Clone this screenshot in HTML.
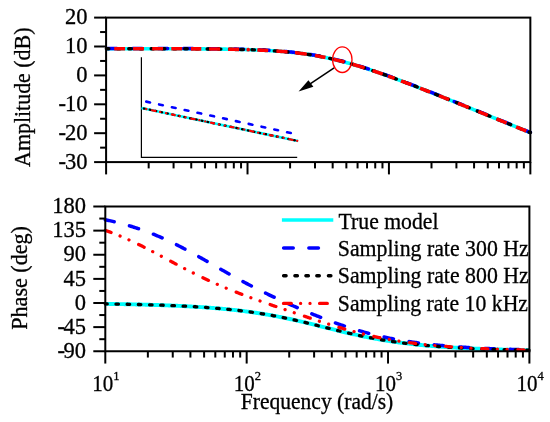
<!DOCTYPE html><html><head><meta charset="utf-8"><style>html,body{margin:0;padding:0;background:#fff;}svg{display:block;}text{font-family:"Liberation Serif","Times New Roman",serif;fill:#000;stroke:#000;stroke-width:0.3px;}</style></head><body>
<svg width="550" height="422" viewBox="0 0 550 422">
<defs><filter id="soft" x="0" y="0" width="1" height="1" filterUnits="objectBoundingBox"><feGaussianBlur stdDeviation="0.3"/></filter></defs>
<g filter="url(#soft)">
<rect width="550" height="422" fill="#fff"/>
<g fill="none">
<path d="M106.10,48.68 L107.16,48.68 L108.22,48.68 L109.28,48.68 L110.34,48.68 L111.40,48.68 L112.46,48.68 L113.52,48.68 L114.59,48.68 L115.65,48.68 L116.71,48.68 L117.77,48.68 L118.83,48.68 L119.89,48.68 L120.95,48.68 L122.01,48.68 L123.07,48.69 L124.13,48.69 L125.19,48.69 L126.25,48.69 L127.31,48.69 L128.37,48.69 L129.43,48.69 L130.49,48.69 L131.55,48.69 L132.62,48.69 L133.68,48.69 L134.74,48.69 L135.80,48.69 L136.86,48.70 L137.92,48.70 L138.98,48.70 L140.04,48.70 L141.10,48.70 L142.16,48.70 L143.22,48.70 L144.28,48.70 L145.34,48.70 L146.40,48.71 L147.46,48.71 L148.53,48.71 L149.59,48.71 L150.65,48.71 L151.71,48.71 L152.77,48.71 L153.83,48.72 L154.89,48.72 L155.95,48.72 L157.01,48.72 L158.07,48.72 L159.13,48.72 L160.19,48.73 L161.25,48.73 L162.31,48.73 L163.37,48.73 L164.43,48.74 L165.49,48.74 L166.56,48.74 L167.62,48.74 L168.68,48.74 L169.74,48.75 L170.80,48.75 L171.86,48.75 L172.92,48.76 L173.98,48.76 L175.04,48.76 L176.10,48.77 L177.16,48.77 L178.22,48.77 L179.28,48.78 L180.34,48.78 L181.40,48.78 L182.47,48.79 L183.53,48.79 L184.59,48.80 L185.65,48.80 L186.71,48.81 L187.77,48.81 L188.83,48.82 L189.89,48.82 L190.95,48.83 L192.01,48.83 L193.07,48.84 L194.13,48.84 L195.19,48.85 L196.25,48.86 L197.31,48.86 L198.37,48.87 L199.44,48.88 L200.50,48.88 L201.56,48.89 L202.62,48.90 L203.68,48.91 L204.74,48.92 L205.80,48.93 L206.86,48.93 L207.92,48.94 L208.98,48.95 L210.04,48.96 L211.10,48.97 L212.16,48.98 L213.22,48.99 L214.28,49.01 L215.34,49.02 L216.41,49.03 L217.47,49.04 L218.53,49.06 L219.59,49.07 L220.65,49.08 L221.71,49.10 L222.77,49.11 L223.83,49.13 L224.89,49.14 L225.95,49.16 L227.01,49.18 L228.07,49.19 L229.13,49.21 L230.19,49.23 L231.25,49.25 L232.31,49.27 L233.38,49.29 L234.44,49.31 L235.50,49.33 L236.56,49.36 L237.62,49.38 L238.68,49.41 L239.74,49.43 L240.80,49.46 L241.86,49.48 L242.92,49.51 L243.98,49.54 L245.04,49.57 L246.10,49.60 L247.16,49.63 L248.22,49.66 L249.28,49.70 L250.34,49.73 L251.41,49.77 L252.47,49.80 L253.53,49.84 L254.59,49.88 L255.65,49.92 L256.71,49.96 L257.77,50.01 L258.83,50.05 L259.89,50.10 L260.95,50.15 L262.01,50.19 L263.07,50.25 L264.13,50.30 L265.19,50.35 L266.25,50.41 L267.31,50.46 L268.38,50.52 L269.44,50.58 L270.50,50.64 L271.56,50.71 L272.62,50.77 L273.68,50.84 L274.74,50.91 L275.80,50.98 L276.86,51.06 L277.92,51.13 L278.98,51.21 L280.04,51.29 L281.10,51.38 L282.16,51.46 L283.22,51.55 L284.28,51.64 L285.35,51.73 L286.41,51.83 L287.47,51.93 L288.53,52.03 L289.59,52.13 L290.65,52.24 L291.71,52.34 L292.77,52.46 L293.83,52.57 L294.89,52.69 L295.95,52.81 L297.01,52.93 L298.07,53.06 L299.13,53.19 L300.19,53.32 L301.25,53.46 L302.32,53.59 L303.38,53.74 L304.44,53.88 L305.50,54.03 L306.56,54.18 L307.62,54.34 L308.68,54.50 L309.74,54.66 L310.80,54.83 L311.86,55.00 L312.92,55.17 L313.98,55.35 L315.04,55.53 L316.10,55.71 L317.16,55.90 L318.23,56.09 L319.29,56.29 L320.35,56.49 L321.41,56.69 L322.47,56.90 L323.53,57.11 L324.59,57.32 L325.65,57.54 L326.71,57.76 L327.77,57.99 L328.83,58.22 L329.89,58.45 L330.95,58.69 L332.01,58.93 L333.07,59.17 L334.13,59.42 L335.20,59.67 L336.26,59.92 L337.32,60.18 L338.38,60.44 L339.44,60.71 L340.50,60.98 L341.56,61.25 L342.62,61.53 L343.68,61.81 L344.74,62.09 L345.80,62.38 L346.86,62.67 L347.92,62.96 L348.98,63.26 L350.04,63.56 L351.10,63.86 L352.17,64.16 L353.23,64.47 L354.29,64.79 L355.35,65.10 L356.41,65.42 L357.47,65.74 L358.53,66.06 L359.59,66.39 L360.65,66.72 L361.71,67.05 L362.77,67.38 L363.83,67.72 L364.89,68.06 L365.95,68.40 L367.01,68.75 L368.07,69.10 L369.13,69.45 L370.20,69.80 L371.26,70.15 L372.32,70.51 L373.38,70.87 L374.44,71.23 L375.50,71.59 L376.56,71.95 L377.62,72.32 L378.68,72.69 L379.74,73.06 L380.80,73.43 L381.86,73.81 L382.92,74.18 L383.98,74.56 L385.04,74.94 L386.11,75.32 L387.17,75.70 L388.23,76.09 L389.29,76.47 L390.35,76.86 L391.41,77.25 L392.47,77.64 L393.53,78.03 L394.59,78.42 L395.65,78.81 L396.71,79.21 L397.77,79.60 L398.83,80.00 L399.89,80.40 L400.95,80.80 L402.01,81.20 L403.08,81.60 L404.14,82.00 L405.20,82.41 L406.26,82.81 L407.32,83.22 L408.38,83.62 L409.44,84.03 L410.50,84.44 L411.56,84.85 L412.62,85.26 L413.68,85.67 L414.74,86.08 L415.80,86.49 L416.86,86.90 L417.92,87.32 L418.98,87.73 L420.04,88.15 L421.11,88.56 L422.17,88.98 L423.23,89.39 L424.29,89.81 L425.35,90.23 L426.41,90.65 L427.47,91.06 L428.53,91.48 L429.59,91.90 L430.65,92.32 L431.71,92.74 L432.77,93.16 L433.83,93.58 L434.89,94.01 L435.95,94.43 L437.01,94.85 L438.08,95.27 L439.14,95.70 L440.20,96.12 L441.26,96.54 L442.32,96.97 L443.38,97.39 L444.44,97.82 L445.50,98.24 L446.56,98.67 L447.62,99.09 L448.68,99.52 L449.74,99.94 L450.80,100.37 L451.86,100.80 L452.92,101.22 L453.99,101.65 L455.05,102.08 L456.11,102.51 L457.17,102.93 L458.23,103.36 L459.29,103.79 L460.35,104.22 L461.41,104.65 L462.47,105.07 L463.53,105.50 L464.59,105.93 L465.65,106.36 L466.71,106.79 L467.77,107.22 L468.83,107.65 L469.89,108.08 L470.96,108.51 L472.02,108.94 L473.08,109.37 L474.14,109.80 L475.20,110.23 L476.26,110.66 L477.32,111.09 L478.38,111.52 L479.44,111.95 L480.50,112.38 L481.56,112.81 L482.62,113.24 L483.68,113.67 L484.74,114.11 L485.80,114.54 L486.86,114.97 L487.93,115.40 L488.99,115.83 L490.05,116.26 L491.11,116.69 L492.17,117.13 L493.23,117.56 L494.29,117.99 L495.35,118.42 L496.41,118.85 L497.47,119.28 L498.53,119.72 L499.59,120.15 L500.65,120.58 L501.71,121.01 L502.77,121.44 L503.83,121.88 L504.89,122.31 L505.96,122.74 L507.02,123.17 L508.08,123.61 L509.14,124.04 L510.20,124.47 L511.26,124.90 L512.32,125.34 L513.38,125.77 L514.44,126.20 L515.50,126.63 L516.56,127.07 L517.62,127.50 L518.68,127.93 L519.74,128.36 L520.80,128.80 L521.87,129.23 L522.93,129.66 L523.99,130.10 L525.05,130.53 L526.11,130.96 L527.17,131.39 L528.23,131.83 L529.29,132.26 L530.35,132.69" stroke="#00ffff" stroke-width="3.6"/>
<path d="M106.10,48.43 L107.16,48.43 L108.22,48.43 L109.28,48.43 L110.34,48.43 L111.40,48.43 L112.46,48.43 L113.52,48.43 L114.59,48.43 L115.65,48.43 L116.71,48.43 L117.77,48.43 L118.83,48.43 L119.89,48.43 L120.95,48.43 L122.01,48.43 L123.07,48.44 L124.13,48.44 L125.19,48.44 L126.25,48.44 L127.31,48.44 L128.37,48.44 L129.43,48.44 L130.49,48.44 L131.55,48.44 L132.62,48.44 L133.68,48.44 L134.74,48.44 L135.80,48.44 L136.86,48.45 L137.92,48.45 L138.98,48.45 L140.04,48.45 L141.10,48.45 L142.16,48.45 L143.22,48.45 L144.28,48.45 L145.34,48.45 L146.40,48.46 L147.46,48.46 L148.53,48.46 L149.59,48.46 L150.65,48.46 L151.71,48.46 L152.77,48.46 L153.83,48.47 L154.89,48.47 L155.95,48.47 L157.01,48.47 L158.07,48.47 L159.13,48.47 L160.19,48.48 L161.25,48.48 L162.31,48.48 L163.37,48.48 L164.43,48.49 L165.49,48.49 L166.56,48.49 L167.62,48.49 L168.68,48.49 L169.74,48.50 L170.80,48.50 L171.86,48.50 L172.92,48.51 L173.98,48.51 L175.04,48.51 L176.10,48.52 L177.16,48.52 L178.22,48.52 L179.28,48.53 L180.34,48.53 L181.40,48.53 L182.47,48.54 L183.53,48.54 L184.59,48.55 L185.65,48.55 L186.71,48.56 L187.77,48.56 L188.83,48.57 L189.89,48.57 L190.95,48.58 L192.01,48.58 L193.07,48.59 L194.13,48.59 L195.19,48.60 L196.25,48.61 L197.31,48.61 L198.37,48.62 L199.44,48.63 L200.50,48.63 L201.56,48.64 L202.62,48.65 L203.68,48.66 L204.74,48.67 L205.80,48.68 L206.86,48.68 L207.92,48.69 L208.98,48.70 L210.04,48.71 L211.10,48.72 L212.16,48.73 L213.22,48.74 L214.28,48.76 L215.34,48.77 L216.41,48.78 L217.47,48.79 L218.53,48.81 L219.59,48.82 L220.65,48.83 L221.71,48.85 L222.77,48.86 L223.83,48.88 L224.89,48.89 L225.95,48.91 L227.01,48.93 L228.07,48.94 L229.13,48.96 L230.19,48.98 L231.25,49.00 L232.31,49.02 L233.38,49.04 L234.44,49.06 L235.50,49.08 L236.56,49.11 L237.62,49.13 L238.68,49.16 L239.74,49.18 L240.80,49.21 L241.86,49.23 L242.92,49.26 L243.98,49.29 L245.04,49.32 L246.10,49.35 L247.16,49.38 L248.22,49.41 L249.28,49.45 L250.34,49.48 L251.41,49.52 L252.47,49.55 L253.53,49.59 L254.59,49.63 L255.65,49.67 L256.71,49.71 L257.77,49.76 L258.83,49.80 L259.89,49.85 L260.95,49.90 L262.01,49.94 L263.07,50.00 L264.13,50.05 L265.19,50.10 L266.25,50.16 L267.31,50.21 L268.38,50.27 L269.44,50.33 L270.50,50.39 L271.56,50.46 L272.62,50.52 L273.68,50.59 L274.74,50.66 L275.80,50.73 L276.86,50.81 L277.92,50.88 L278.98,50.96 L280.04,51.04 L281.10,51.13 L282.16,51.21 L283.22,51.30 L284.28,51.39 L285.35,51.48 L286.41,51.58 L287.47,51.68 L288.53,51.78 L289.59,51.88 L290.65,51.99 L291.71,52.09 L292.77,52.21 L293.83,52.32 L294.89,52.44 L295.95,52.56 L297.01,52.68 L298.07,52.81 L299.13,52.94 L300.19,53.07 L301.25,53.21 L302.32,53.34 L303.38,53.49 L304.44,53.63 L305.50,53.78 L306.56,53.93 L307.62,54.09 L308.68,54.25 L309.74,54.41 L310.80,54.58 L311.86,54.75 L312.92,54.92 L313.98,55.10 L315.04,55.28 L316.10,55.46 L317.16,55.65 L318.23,55.84 L319.29,56.04 L320.35,56.24 L321.41,56.44 L322.47,56.65 L323.53,56.86 L324.59,57.07 L325.65,57.29 L326.71,57.51 L327.77,57.74 L328.83,57.97 L329.89,58.20 L330.95,58.44 L332.01,58.68 L333.07,58.92 L334.13,59.17 L335.20,59.42 L336.26,59.67 L337.32,59.93 L338.38,60.19 L339.44,60.46 L340.50,60.73 L341.56,61.00 L342.62,61.28 L343.68,61.56 L344.74,61.84 L345.80,62.13 L346.86,62.42 L347.92,62.71 L348.98,63.01 L350.04,63.31 L351.10,63.61 L352.17,63.91 L353.23,64.22 L354.29,64.54 L355.35,64.85 L356.41,65.17 L357.47,65.49 L358.53,65.81 L359.59,66.14 L360.65,66.47 L361.71,66.80 L362.77,67.13 L363.83,67.47 L364.89,67.81 L365.95,68.15 L367.01,68.50 L368.07,68.85 L369.13,69.20 L370.20,69.55 L371.26,69.90 L372.32,70.26 L373.38,70.62 L374.44,70.98 L375.50,71.34 L376.56,71.70 L377.62,72.07 L378.68,72.44 L379.74,72.81 L380.80,73.18 L381.86,73.56 L382.92,73.93 L383.98,74.31 L385.04,74.69 L386.11,75.07 L387.17,75.45 L388.23,75.84 L389.29,76.22 L390.35,76.61 L391.41,77.00 L392.47,77.39 L393.53,77.78 L394.59,78.17 L395.65,78.56 L396.71,78.96 L397.77,79.35 L398.83,79.75 L399.89,80.15 L400.95,80.55 L402.01,80.95 L403.08,81.35 L404.14,81.75 L405.20,82.16 L406.26,82.56 L407.32,82.97 L408.38,83.37 L409.44,83.78 L410.50,84.19 L411.56,84.60 L412.62,85.01 L413.68,85.42 L414.74,85.83 L415.80,86.24 L416.86,86.65 L417.92,87.07 L418.98,87.48 L420.04,87.90 L421.11,88.31 L422.17,88.73 L423.23,89.14 L424.29,89.56 L425.35,89.98 L426.41,90.40 L427.47,90.81 L428.53,91.23 L429.59,91.65 L430.65,92.07 L431.71,92.49 L432.77,92.91 L433.83,93.33 L434.89,93.76 L435.95,94.18 L437.01,94.60 L438.08,95.02 L439.14,95.45 L440.20,95.87 L441.26,96.29 L442.32,96.72 L443.38,97.14 L444.44,97.57 L445.50,97.99 L446.56,98.42 L447.62,98.84 L448.68,99.27 L449.74,99.69 L450.80,100.12 L451.86,100.55 L452.92,100.97 L453.99,101.40 L455.05,101.83 L456.11,102.26 L457.17,102.68 L458.23,103.11 L459.29,103.54 L460.35,103.97 L461.41,104.40 L462.47,104.82 L463.53,105.25 L464.59,105.68 L465.65,106.11 L466.71,106.54 L467.77,106.97 L468.83,107.40 L469.89,107.83 L470.96,108.26 L472.02,108.69 L473.08,109.12 L474.14,109.55 L475.20,109.98 L476.26,110.41 L477.32,110.84 L478.38,111.27 L479.44,111.70 L480.50,112.13 L481.56,112.56 L482.62,112.99 L483.68,113.42 L484.74,113.86 L485.80,114.29 L486.86,114.72 L487.93,115.15 L488.99,115.58 L490.05,116.01 L491.11,116.44 L492.17,116.88 L493.23,117.31 L494.29,117.74 L495.35,118.17 L496.41,118.60 L497.47,119.03 L498.53,119.47 L499.59,119.90 L500.65,120.33 L501.71,120.76 L502.77,121.19 L503.83,121.63 L504.89,122.06 L505.96,122.49 L507.02,122.92 L508.08,123.36 L509.14,123.79 L510.20,124.22 L511.26,124.65 L512.32,125.09 L513.38,125.52 L514.44,125.95 L515.50,126.38 L516.56,126.82 L517.62,127.25 L518.68,127.68 L519.74,128.11 L520.80,128.55 L521.87,128.98 L522.93,129.41 L523.99,129.85 L525.05,130.28 L526.11,130.71 L527.17,131.14 L528.23,131.58 L529.29,132.01 L530.35,132.44" stroke="#0000ff" stroke-width="3.5" stroke-linecap="round" stroke-dasharray="9.5 15.85" stroke-dashoffset="24.00"/>
<path d="M106.10,48.68 L107.16,48.68 L108.22,48.68 L109.28,48.68 L110.34,48.68 L111.40,48.68 L112.46,48.68 L113.52,48.68 L114.59,48.68 L115.65,48.68 L116.71,48.68 L117.77,48.68 L118.83,48.68 L119.89,48.68 L120.95,48.68 L122.01,48.68 L123.07,48.69 L124.13,48.69 L125.19,48.69 L126.25,48.69 L127.31,48.69 L128.37,48.69 L129.43,48.69 L130.49,48.69 L131.55,48.69 L132.62,48.69 L133.68,48.69 L134.74,48.69 L135.80,48.69 L136.86,48.70 L137.92,48.70 L138.98,48.70 L140.04,48.70 L141.10,48.70 L142.16,48.70 L143.22,48.70 L144.28,48.70 L145.34,48.70 L146.40,48.71 L147.46,48.71 L148.53,48.71 L149.59,48.71 L150.65,48.71 L151.71,48.71 L152.77,48.71 L153.83,48.72 L154.89,48.72 L155.95,48.72 L157.01,48.72 L158.07,48.72 L159.13,48.72 L160.19,48.73 L161.25,48.73 L162.31,48.73 L163.37,48.73 L164.43,48.74 L165.49,48.74 L166.56,48.74 L167.62,48.74 L168.68,48.74 L169.74,48.75 L170.80,48.75 L171.86,48.75 L172.92,48.76 L173.98,48.76 L175.04,48.76 L176.10,48.77 L177.16,48.77 L178.22,48.77 L179.28,48.78 L180.34,48.78 L181.40,48.78 L182.47,48.79 L183.53,48.79 L184.59,48.80 L185.65,48.80 L186.71,48.81 L187.77,48.81 L188.83,48.82 L189.89,48.82 L190.95,48.83 L192.01,48.83 L193.07,48.84 L194.13,48.84 L195.19,48.85 L196.25,48.86 L197.31,48.86 L198.37,48.87 L199.44,48.88 L200.50,48.88 L201.56,48.89 L202.62,48.90 L203.68,48.91 L204.74,48.92 L205.80,48.93 L206.86,48.93 L207.92,48.94 L208.98,48.95 L210.04,48.96 L211.10,48.97 L212.16,48.98 L213.22,48.99 L214.28,49.01 L215.34,49.02 L216.41,49.03 L217.47,49.04 L218.53,49.06 L219.59,49.07 L220.65,49.08 L221.71,49.10 L222.77,49.11 L223.83,49.13 L224.89,49.14 L225.95,49.16 L227.01,49.18 L228.07,49.19 L229.13,49.21 L230.19,49.23 L231.25,49.25 L232.31,49.27 L233.38,49.29 L234.44,49.31 L235.50,49.33 L236.56,49.36 L237.62,49.38 L238.68,49.41 L239.74,49.43 L240.80,49.46 L241.86,49.48 L242.92,49.51 L243.98,49.54 L245.04,49.57 L246.10,49.60 L247.16,49.63 L248.22,49.66 L249.28,49.70 L250.34,49.73 L251.41,49.77 L252.47,49.80 L253.53,49.84 L254.59,49.88 L255.65,49.92 L256.71,49.96 L257.77,50.01 L258.83,50.05 L259.89,50.10 L260.95,50.15 L262.01,50.19 L263.07,50.25 L264.13,50.30 L265.19,50.35 L266.25,50.41 L267.31,50.46 L268.38,50.52 L269.44,50.58 L270.50,50.64 L271.56,50.71 L272.62,50.77 L273.68,50.84 L274.74,50.91 L275.80,50.98 L276.86,51.06 L277.92,51.13 L278.98,51.21 L280.04,51.29 L281.10,51.38 L282.16,51.46 L283.22,51.55 L284.28,51.64 L285.35,51.73 L286.41,51.83 L287.47,51.93 L288.53,52.03 L289.59,52.13 L290.65,52.24 L291.71,52.34 L292.77,52.46 L293.83,52.57 L294.89,52.69 L295.95,52.81 L297.01,52.93 L298.07,53.06 L299.13,53.19 L300.19,53.32 L301.25,53.46 L302.32,53.59 L303.38,53.74 L304.44,53.88 L305.50,54.03 L306.56,54.18 L307.62,54.34 L308.68,54.50 L309.74,54.66 L310.80,54.83 L311.86,55.00 L312.92,55.17 L313.98,55.35 L315.04,55.53 L316.10,55.71 L317.16,55.90 L318.23,56.09 L319.29,56.29 L320.35,56.49 L321.41,56.69 L322.47,56.90 L323.53,57.11 L324.59,57.32 L325.65,57.54 L326.71,57.76 L327.77,57.99 L328.83,58.22 L329.89,58.45 L330.95,58.69 L332.01,58.93 L333.07,59.17 L334.13,59.42 L335.20,59.67 L336.26,59.92 L337.32,60.18 L338.38,60.44 L339.44,60.71 L340.50,60.98 L341.56,61.25 L342.62,61.53 L343.68,61.81 L344.74,62.09 L345.80,62.38 L346.86,62.67 L347.92,62.96 L348.98,63.26 L350.04,63.56 L351.10,63.86 L352.17,64.16 L353.23,64.47 L354.29,64.79 L355.35,65.10 L356.41,65.42 L357.47,65.74 L358.53,66.06 L359.59,66.39 L360.65,66.72 L361.71,67.05 L362.77,67.38 L363.83,67.72 L364.89,68.06 L365.95,68.40 L367.01,68.75 L368.07,69.10 L369.13,69.45 L370.20,69.80 L371.26,70.15 L372.32,70.51 L373.38,70.87 L374.44,71.23 L375.50,71.59 L376.56,71.95 L377.62,72.32 L378.68,72.69 L379.74,73.06 L380.80,73.43 L381.86,73.81 L382.92,74.18 L383.98,74.56 L385.04,74.94 L386.11,75.32 L387.17,75.70 L388.23,76.09 L389.29,76.47 L390.35,76.86 L391.41,77.25 L392.47,77.64 L393.53,78.03 L394.59,78.42 L395.65,78.81 L396.71,79.21 L397.77,79.60 L398.83,80.00 L399.89,80.40 L400.95,80.80 L402.01,81.20 L403.08,81.60 L404.14,82.00 L405.20,82.41 L406.26,82.81 L407.32,83.22 L408.38,83.62 L409.44,84.03 L410.50,84.44 L411.56,84.85 L412.62,85.26 L413.68,85.67 L414.74,86.08 L415.80,86.49 L416.86,86.90 L417.92,87.32 L418.98,87.73 L420.04,88.15 L421.11,88.56 L422.17,88.98 L423.23,89.39 L424.29,89.81 L425.35,90.23 L426.41,90.65 L427.47,91.06 L428.53,91.48 L429.59,91.90 L430.65,92.32 L431.71,92.74 L432.77,93.16 L433.83,93.58 L434.89,94.01 L435.95,94.43 L437.01,94.85 L438.08,95.27 L439.14,95.70 L440.20,96.12 L441.26,96.54 L442.32,96.97 L443.38,97.39 L444.44,97.82 L445.50,98.24 L446.56,98.67 L447.62,99.09 L448.68,99.52 L449.74,99.94 L450.80,100.37 L451.86,100.80 L452.92,101.22 L453.99,101.65 L455.05,102.08 L456.11,102.51 L457.17,102.93 L458.23,103.36 L459.29,103.79 L460.35,104.22 L461.41,104.65 L462.47,105.07 L463.53,105.50 L464.59,105.93 L465.65,106.36 L466.71,106.79 L467.77,107.22 L468.83,107.65 L469.89,108.08 L470.96,108.51 L472.02,108.94 L473.08,109.37 L474.14,109.80 L475.20,110.23 L476.26,110.66 L477.32,111.09 L478.38,111.52 L479.44,111.95 L480.50,112.38 L481.56,112.81 L482.62,113.24 L483.68,113.67 L484.74,114.11 L485.80,114.54 L486.86,114.97 L487.93,115.40 L488.99,115.83 L490.05,116.26 L491.11,116.69 L492.17,117.13 L493.23,117.56 L494.29,117.99 L495.35,118.42 L496.41,118.85 L497.47,119.28 L498.53,119.72 L499.59,120.15 L500.65,120.58 L501.71,121.01 L502.77,121.44 L503.83,121.88 L504.89,122.31 L505.96,122.74 L507.02,123.17 L508.08,123.61 L509.14,124.04 L510.20,124.47 L511.26,124.90 L512.32,125.34 L513.38,125.77 L514.44,126.20 L515.50,126.63 L516.56,127.07 L517.62,127.50 L518.68,127.93 L519.74,128.36 L520.80,128.80 L521.87,129.23 L522.93,129.66 L523.99,130.10 L525.05,130.53 L526.11,130.96 L527.17,131.39 L528.23,131.83 L529.29,132.26 L530.35,132.69" stroke="#000" stroke-width="3.4" stroke-linecap="round" stroke-dasharray="2.5 8.7" stroke-dashoffset="10.95"/>
<path d="M114.20,48.68 L114.59,48.68 L115.65,48.68 L116.71,48.68 L117.77,48.68 L118.83,48.68 L119.89,48.68 L120.95,48.68 L122.01,48.68 L123.07,48.69 L124.13,48.69 L125.10,48.69 M133.10,48.69 L133.68,48.69 L134.74,48.69 L135.80,48.69 L136.86,48.70 L137.92,48.70 L138.98,48.70 L140.04,48.70 L141.10,48.70 L142.16,48.70 L143.22,48.70 L144.00,48.70 M152.20,48.71 L152.77,48.71 L153.83,48.72 L154.89,48.72 L155.95,48.72 L157.01,48.72 L158.07,48.72 L159.13,48.72 L160.19,48.73 L161.25,48.73 L162.31,48.73 L163.10,48.73 M171.30,48.75 L171.86,48.75 L172.92,48.76 L173.98,48.76 L175.04,48.76 L176.10,48.77 L177.16,48.77 L178.22,48.77 L179.28,48.78 L180.34,48.78 L181.40,48.78 L182.20,48.79 M190.90,48.83 L190.95,48.83 L192.01,48.83 L193.07,48.84 L194.13,48.84 L195.19,48.85 L196.25,48.86 L197.31,48.86 L198.37,48.87 L199.44,48.88 L200.50,48.88 L201.30,48.89 M209.10,48.95 L210.04,48.96 L211.10,48.97 L212.16,48.98 L213.22,48.99 L214.28,49.01 L215.34,49.02 L216.41,49.03 L217.47,49.04 L218.53,49.06 L219.59,49.07 L220.00,49.07 M228.20,49.20 L229.13,49.21 L230.19,49.23 L231.25,49.25 L232.31,49.27 L233.38,49.29 L234.44,49.31 L235.50,49.33 L236.56,49.36 L237.62,49.38 L238.68,49.41 L239.10,49.42 M257.30,49.99 L257.77,50.01 L258.83,50.05 L259.89,50.10 L260.95,50.15 L262.01,50.19 L263.07,50.25 L264.13,50.30 L265.19,50.35 L266.25,50.41 L267.31,50.46 L268.20,50.51 M276.40,51.03 L276.86,51.06 L277.92,51.13 L278.98,51.21 L280.04,51.29 L281.10,51.38 L282.16,51.46 L283.22,51.55 L284.28,51.64 L285.35,51.73 L286.41,51.83 L287.47,51.93 L287.50,51.93 M295.00,52.70 L295.95,52.81 L297.01,52.93 L298.07,53.06 L299.13,53.19 L300.19,53.32 L301.25,53.46 L302.32,53.59 L303.38,53.74 L304.44,53.88 L305.50,54.03 L306.56,54.18 L306.80,54.22 M315.00,55.52 L315.04,55.53 L316.10,55.71 L317.16,55.90 L318.23,56.09 L319.29,56.29 L320.35,56.49 L321.41,56.69 L322.47,56.90 L323.53,57.11 L324.59,57.32 L325.50,57.51 M333.60,59.29 L334.13,59.42 L335.20,59.67 L336.26,59.92 L337.32,60.18 L338.38,60.44 L339.44,60.71 L340.50,60.98 L341.56,61.25 L342.62,61.53 L343.68,61.81 L344.50,62.03 M352.70,64.32 L353.23,64.47 L354.29,64.79 L355.35,65.10 L356.41,65.42 L357.47,65.74 L358.53,66.06 L359.59,66.39 L360.65,66.72 L361.71,67.05 L362.77,67.38 L363.83,67.72 L364.50,67.94 M372.70,70.64 L373.38,70.87 L374.44,71.23 L375.50,71.59 L376.56,71.95 L377.62,72.32 L378.68,72.69 L379.74,73.06 L380.80,73.43 L381.86,73.81 L382.70,74.10 M388.00,76.00 L388.23,76.09 L389.29,76.47 L390.35,76.86 L391.41,77.25 L392.47,77.64 L393.53,78.03 L394.50,78.39 M401.00,80.82 L402.01,81.20 L403.08,81.60 L404.14,82.00 L405.20,82.41 L406.26,82.81 L407.32,83.22 L408.38,83.62 L409.44,84.03 L410.50,84.44 L411.30,84.75 M420.00,88.13 L420.04,88.15 L421.11,88.56 L422.17,88.98 L423.23,89.39 L424.29,89.81 L425.35,90.23 L426.41,90.65 L427.47,91.06 L428.53,91.48 L429.59,91.90 L430.20,92.14 M438.90,95.60 L439.14,95.70 L440.20,96.12 L441.26,96.54 L442.32,96.97 L443.38,97.39 L444.44,97.82 L445.50,98.24 L446.56,98.67 L447.62,99.09 L448.68,99.52 L449.10,99.69 M457.90,103.23 L458.23,103.36 L459.29,103.79 L460.35,104.22 L461.41,104.65 L462.47,105.07 L463.53,105.50 L464.59,105.93 L465.65,106.36 L466.71,106.79 L467.77,107.22 L468.80,107.64 M478.30,111.49 L478.38,111.52 L479.44,111.95 L480.50,112.38 L481.56,112.81 L482.62,113.24 L483.68,113.67 L484.74,114.11 L485.80,114.54 L486.86,114.97 L487.70,115.31 M496.50,118.89 L497.47,119.28 L498.53,119.72 L499.59,120.15 L500.65,120.58 L501.71,121.01 L502.77,121.44 L503.83,121.88 L504.89,122.31 L505.96,122.74 L506.60,123.00 M516.10,126.88 L516.56,127.07 L517.62,127.50 L518.68,127.93 L519.74,128.36 L520.80,128.80 L521.87,129.23 L522.93,129.66 L523.99,130.10 L525.05,130.53 L526.11,130.96 L526.30,131.04" stroke="#ff0000" stroke-width="3.6"/>
<circle cx="248.2" cy="49.66" r="1.85" fill="#ff0000" stroke="none"/>
</g>
<g fill="none">
<path d="M141.4,57.3 V157.3 H297.2" stroke="#000" stroke-width="1.2"/>
<path d="M141.5,108 L298,141" stroke="#00ffff" stroke-width="2.8"/>
<path d="M141.5,108 L298,141" stroke="#000" stroke-width="2.3" stroke-linecap="round" stroke-dasharray="0.8 5.1" stroke-dashoffset="-2.5"/>
<path d="M141.5,108 L298,141" stroke="#ff0000" stroke-width="2.3" stroke-linecap="round" stroke-dasharray="3 5 0.01 6 0.01 6" stroke-dashoffset="-11"/>
<path d="M141.5,100.6 L298,134.6" stroke="#0000ff" stroke-width="2.6" stroke-dasharray="3.8 9.3" stroke-dashoffset="-4.9" stroke-linecap="round"/>
</g>
<ellipse cx="342.3" cy="59.7" rx="9.7" ry="12.8" fill="none" stroke="#ff0000" stroke-width="1.3"/>
<line x1="334.1" y1="67.9" x2="309" y2="84.6" stroke="#000" stroke-width="1.6"/>
<polygon points="298.6,91.6 308.4,80.2 313.4,86.7" fill="#000"/>
<g fill="none">
<path d="M105.30,303.87 L106.36,303.89 L107.42,303.90 L108.48,303.92 L109.54,303.93 L110.60,303.95 L111.66,303.97 L112.72,303.98 L113.78,304.00 L114.84,304.02 L115.90,304.04 L116.96,304.05 L118.02,304.07 L119.08,304.09 L120.14,304.11 L121.20,304.13 L122.26,304.15 L123.32,304.17 L124.38,304.19 L125.44,304.21 L126.50,304.23 L127.57,304.25 L128.63,304.28 L129.69,304.30 L130.75,304.32 L131.81,304.34 L132.87,304.37 L133.93,304.39 L134.99,304.41 L136.05,304.44 L137.11,304.46 L138.17,304.49 L139.23,304.52 L140.29,304.54 L141.35,304.57 L142.41,304.60 L143.47,304.62 L144.53,304.65 L145.59,304.68 L146.65,304.71 L147.71,304.74 L148.77,304.77 L149.83,304.80 L150.89,304.83 L151.95,304.86 L153.01,304.90 L154.07,304.93 L155.13,304.96 L156.19,305.00 L157.25,305.03 L158.31,305.07 L159.37,305.10 L160.43,305.14 L161.49,305.18 L162.55,305.21 L163.61,305.25 L164.67,305.29 L165.73,305.33 L166.79,305.37 L167.85,305.41 L168.91,305.45 L169.98,305.50 L171.04,305.54 L172.10,305.58 L173.16,305.63 L174.22,305.67 L175.28,305.72 L176.34,305.77 L177.40,305.82 L178.46,305.86 L179.52,305.91 L180.58,305.96 L181.64,306.02 L182.70,306.07 L183.76,306.12 L184.82,306.18 L185.88,306.23 L186.94,306.29 L188.00,306.34 L189.06,306.40 L190.12,306.46 L191.18,306.52 L192.24,306.58 L193.30,306.64 L194.36,306.70 L195.42,306.77 L196.48,306.83 L197.54,306.90 L198.60,306.97 L199.66,307.03 L200.72,307.10 L201.78,307.17 L202.84,307.25 L203.90,307.32 L204.96,307.39 L206.02,307.47 L207.08,307.55 L208.14,307.62 L209.20,307.70 L210.26,307.78 L211.32,307.87 L212.39,307.95 L213.45,308.03 L214.51,308.12 L215.57,308.21 L216.63,308.30 L217.69,308.39 L218.75,308.48 L219.81,308.57 L220.87,308.67 L221.93,308.76 L222.99,308.86 L224.05,308.96 L225.11,309.06 L226.17,309.17 L227.23,309.27 L228.29,309.38 L229.35,309.48 L230.41,309.59 L231.47,309.70 L232.53,309.82 L233.59,309.93 L234.65,310.05 L235.71,310.17 L236.77,310.29 L237.83,310.41 L238.89,310.53 L239.95,310.66 L241.01,310.79 L242.07,310.92 L243.13,311.05 L244.19,311.18 L245.25,311.32 L246.31,311.46 L247.37,311.60 L248.43,311.74 L249.49,311.88 L250.55,312.03 L251.61,312.18 L252.67,312.33 L253.73,312.48 L254.80,312.63 L255.86,312.79 L256.92,312.95 L257.98,313.11 L259.04,313.27 L260.10,313.44 L261.16,313.61 L262.22,313.78 L263.28,313.95 L264.34,314.12 L265.40,314.30 L266.46,314.48 L267.52,314.66 L268.58,314.84 L269.64,315.03 L270.70,315.22 L271.76,315.41 L272.82,315.60 L273.88,315.80 L274.94,316.00 L276.00,316.19 L277.06,316.40 L278.12,316.60 L279.18,316.81 L280.24,317.02 L281.30,317.23 L282.36,317.44 L283.42,317.66 L284.48,317.87 L285.54,318.09 L286.60,318.31 L287.66,318.54 L288.72,318.76 L289.78,318.99 L290.84,319.22 L291.90,319.45 L292.96,319.69 L294.02,319.92 L295.08,320.16 L296.14,320.40 L297.21,320.64 L298.27,320.88 L299.33,321.13 L300.39,321.37 L301.45,321.62 L302.51,321.87 L303.57,322.12 L304.63,322.37 L305.69,322.63 L306.75,322.88 L307.81,323.14 L308.87,323.39 L309.93,323.65 L310.99,323.91 L312.05,324.17 L313.11,324.43 L314.17,324.69 L315.23,324.96 L316.29,325.22 L317.35,325.48 L318.41,325.75 L319.47,326.01 L320.53,326.28 L321.59,326.54 L322.65,326.81 L323.71,327.07 L324.77,327.34 L325.83,327.60 L326.89,327.87 L327.95,328.13 L329.01,328.40 L330.07,328.66 L331.13,328.92 L332.19,329.19 L333.25,329.45 L334.31,329.71 L335.37,329.97 L336.43,330.23 L337.49,330.49 L338.55,330.75 L339.62,331.01 L340.68,331.26 L341.74,331.52 L342.80,331.77 L343.86,332.02 L344.92,332.28 L345.98,332.53 L347.04,332.77 L348.10,333.02 L349.16,333.27 L350.22,333.51 L351.28,333.75 L352.34,333.99 L353.40,334.23 L354.46,334.47 L355.52,334.70 L356.58,334.93 L357.64,335.16 L358.70,335.39 L359.76,335.62 L360.82,335.84 L361.88,336.07 L362.94,336.29 L364.00,336.51 L365.06,336.72 L366.12,336.94 L367.18,337.15 L368.24,337.36 L369.30,337.56 L370.36,337.77 L371.42,337.97 L372.48,338.17 L373.54,338.37 L374.60,338.57 L375.66,338.76 L376.72,338.95 L377.78,339.14 L378.84,339.33 L379.90,339.51 L380.97,339.70 L382.03,339.88 L383.09,340.05 L384.15,340.23 L385.21,340.40 L386.27,340.57 L387.33,340.74 L388.39,340.91 L389.45,341.07 L390.51,341.24 L391.57,341.40 L392.63,341.55 L393.69,341.71 L394.75,341.86 L395.81,342.01 L396.87,342.16 L397.93,342.31 L398.99,342.45 L400.05,342.60 L401.11,342.74 L402.17,342.88 L403.23,343.01 L404.29,343.15 L405.35,343.28 L406.41,343.41 L407.47,343.54 L408.53,343.66 L409.59,343.79 L410.65,343.91 L411.71,344.03 L412.77,344.15 L413.83,344.27 L414.89,344.39 L415.95,344.50 L417.01,344.61 L418.07,344.72 L419.13,344.83 L420.19,344.94 L421.25,345.04 L422.31,345.15 L423.38,345.25 L424.44,345.35 L425.50,345.45 L426.56,345.54 L427.62,345.64 L428.68,345.73 L429.74,345.83 L430.80,345.92 L431.86,346.01 L432.92,346.09 L433.98,346.18 L435.04,346.27 L436.10,346.35 L437.16,346.43 L438.22,346.51 L439.28,346.59 L440.34,346.67 L441.40,346.75 L442.46,346.83 L443.52,346.90 L444.58,346.97 L445.64,347.05 L446.70,347.12 L447.76,347.19 L448.82,347.26 L449.88,347.32 L450.94,347.39 L452.00,347.46 L453.06,347.52 L454.12,347.58 L455.18,347.64 L456.24,347.71 L457.30,347.77 L458.36,347.83 L459.42,347.88 L460.48,347.94 L461.54,348.00 L462.60,348.05 L463.66,348.11 L464.72,348.16 L465.78,348.21 L466.85,348.26 L467.91,348.32 L468.97,348.37 L470.03,348.41 L471.09,348.46 L472.15,348.51 L473.21,348.56 L474.27,348.60 L475.33,348.65 L476.39,348.69 L477.45,348.74 L478.51,348.78 L479.57,348.82 L480.63,348.86 L481.69,348.90 L482.75,348.94 L483.81,348.98 L484.87,349.02 L485.93,349.06 L486.99,349.10 L488.05,349.13 L489.11,349.17 L490.17,349.20 L491.23,349.24 L492.29,349.27 L493.35,349.31 L494.41,349.34 L495.47,349.37 L496.53,349.41 L497.59,349.44 L498.65,349.47 L499.71,349.50 L500.77,349.53 L501.83,349.56 L502.89,349.59 L503.95,349.62 L505.01,349.64 L506.07,349.67 L507.13,349.70 L508.19,349.72 L509.26,349.75 L510.32,349.78 L511.38,349.80 L512.44,349.83 L513.50,349.85 L514.56,349.87 L515.62,349.90 L516.68,349.92 L517.74,349.94 L518.80,349.97 L519.86,349.99 L520.92,350.01 L521.98,350.03 L523.04,350.05 L524.10,350.07 L525.16,350.09 L526.22,350.11 L527.28,350.13 L528.34,350.15 L529.40,350.17" stroke="#00ffff" stroke-width="3.9"/>
<path d="M105.30,219.74 L106.36,219.96 L107.42,220.19 L108.48,220.43 L109.54,220.66 L110.60,220.90 L111.66,221.14 L112.72,221.39 L113.78,221.64 L114.84,221.90 L115.90,222.16 L116.96,222.42 L118.02,222.69 L119.08,222.96 L120.14,223.23 L121.20,223.51 L122.26,223.80 L123.32,224.08 L124.38,224.38 L125.44,224.67 L126.50,224.97 L127.57,225.28 L128.63,225.59 L129.69,225.91 L130.75,226.23 L131.81,226.55 L132.87,226.88 L133.93,227.21 L134.99,227.55 L136.05,227.89 L137.11,228.24 L138.17,228.59 L139.23,228.95 L140.29,229.32 L141.35,229.68 L142.41,230.06 L143.47,230.43 L144.53,230.82 L145.59,231.20 L146.65,231.60 L147.71,232.00 L148.77,232.40 L149.83,232.81 L150.89,233.22 L151.95,233.64 L153.01,234.06 L154.07,234.49 L155.13,234.92 L156.19,235.36 L157.25,235.81 L158.31,236.26 L159.37,236.71 L160.43,237.17 L161.49,237.63 L162.55,238.10 L163.61,238.58 L164.67,239.06 L165.73,239.54 L166.79,240.03 L167.85,240.52 L168.91,241.02 L169.98,241.52 L171.04,242.03 L172.10,242.54 L173.16,243.06 L174.22,243.58 L175.28,244.11 L176.34,244.64 L177.40,245.17 L178.46,245.71 L179.52,246.25 L180.58,246.80 L181.64,247.35 L182.70,247.90 L183.76,248.46 L184.82,249.02 L185.88,249.59 L186.94,250.15 L188.00,250.72 L189.06,251.30 L190.12,251.88 L191.18,252.46 L192.24,253.04 L193.30,253.62 L194.36,254.21 L195.42,254.80 L196.48,255.39 L197.54,255.99 L198.60,256.58 L199.66,257.18 L200.72,257.78 L201.78,258.38 L202.84,258.98 L203.90,259.59 L204.96,260.19 L206.02,260.80 L207.08,261.40 L208.14,262.01 L209.20,262.62 L210.26,263.22 L211.32,263.83 L212.39,264.44 L213.45,265.05 L214.51,265.66 L215.57,266.26 L216.63,266.87 L217.69,267.48 L218.75,268.08 L219.81,268.69 L220.87,269.29 L221.93,269.90 L222.99,270.50 L224.05,271.10 L225.11,271.70 L226.17,272.30 L227.23,272.90 L228.29,273.49 L229.35,274.09 L230.41,274.68 L231.47,275.27 L232.53,275.86 L233.59,276.45 L234.65,277.03 L235.71,277.62 L236.77,278.20 L237.83,278.78 L238.89,279.35 L239.95,279.93 L241.01,280.50 L242.07,281.07 L243.13,281.64 L244.19,282.20 L245.25,282.77 L246.31,283.33 L247.37,283.88 L248.43,284.44 L249.49,284.99 L250.55,285.54 L251.61,286.09 L252.67,286.64 L253.73,287.18 L254.80,287.72 L255.86,288.26 L256.92,288.80 L257.98,289.33 L259.04,289.87 L260.10,290.40 L261.16,290.92 L262.22,291.45 L263.28,291.97 L264.34,292.49 L265.40,293.01 L266.46,293.52 L267.52,294.04 L268.58,294.55 L269.64,295.06 L270.70,295.57 L271.76,296.07 L272.82,296.57 L273.88,297.08 L274.94,297.57 L276.00,298.07 L277.06,298.57 L278.12,299.06 L279.18,299.55 L280.24,300.04 L281.30,300.53 L282.36,301.01 L283.42,301.50 L284.48,301.98 L285.54,302.46 L286.60,302.94 L287.66,303.41 L288.72,303.89 L289.78,304.36 L290.84,304.83 L291.90,305.30 L292.96,305.77 L294.02,306.24 L295.08,306.70 L296.14,307.16 L297.21,307.62 L298.27,308.08 L299.33,308.54 L300.39,309.00 L301.45,309.45 L302.51,309.90 L303.57,310.35 L304.63,310.80 L305.69,311.25 L306.75,311.69 L307.81,312.14 L308.87,312.58 L309.93,313.02 L310.99,313.46 L312.05,313.89 L313.11,314.32 L314.17,314.76 L315.23,315.19 L316.29,315.61 L317.35,316.04 L318.41,316.46 L319.47,316.88 L320.53,317.30 L321.59,317.72 L322.65,318.13 L323.71,318.54 L324.77,318.95 L325.83,319.36 L326.89,319.76 L327.95,320.17 L329.01,320.57 L330.07,320.96 L331.13,321.36 L332.19,321.75 L333.25,322.14 L334.31,322.52 L335.37,322.91 L336.43,323.29 L337.49,323.66 L338.55,324.04 L339.62,324.41 L340.68,324.78 L341.74,325.14 L342.80,325.50 L343.86,325.86 L344.92,326.22 L345.98,326.57 L347.04,326.92 L348.10,327.27 L349.16,327.61 L350.22,327.95 L351.28,328.29 L352.34,328.62 L353.40,328.95 L354.46,329.28 L355.52,329.60 L356.58,329.92 L357.64,330.24 L358.70,330.55 L359.76,330.86 L360.82,331.16 L361.88,331.47 L362.94,331.76 L364.00,332.06 L365.06,332.35 L366.12,332.64 L367.18,332.93 L368.24,333.21 L369.30,333.49 L370.36,333.76 L371.42,334.03 L372.48,334.30 L373.54,334.56 L374.60,334.83 L375.66,335.08 L376.72,335.34 L377.78,335.59 L378.84,335.84 L379.90,336.08 L380.97,336.32 L382.03,336.56 L383.09,336.79 L384.15,337.03 L385.21,337.25 L386.27,337.48 L387.33,337.70 L388.39,337.92 L389.45,338.13 L390.51,338.35 L391.57,338.56 L392.63,338.76 L393.69,338.96 L394.75,339.16 L395.81,339.36 L396.87,339.56 L397.93,339.75 L398.99,339.94 L400.05,340.12 L401.11,340.31 L402.17,340.49 L403.23,340.66 L404.29,340.84 L405.35,341.01 L406.41,341.18 L407.47,341.35 L408.53,341.51 L409.59,341.67 L410.65,341.83 L411.71,341.99 L412.77,342.14 L413.83,342.29 L414.89,342.44 L415.95,342.59 L417.01,342.73 L418.07,342.88 L419.13,343.02 L420.19,343.15 L421.25,343.29 L422.31,343.42 L423.38,343.56 L424.44,343.68 L425.50,343.81 L426.56,343.94 L427.62,344.06 L428.68,344.18 L429.74,344.30 L430.80,344.42 L431.86,344.53 L432.92,344.65 L433.98,344.76 L435.04,344.87 L436.10,344.97 L437.16,345.08 L438.22,345.18 L439.28,345.29 L440.34,345.39 L441.40,345.49 L442.46,345.58 L443.52,345.68 L444.58,345.78 L445.64,345.87 L446.70,345.96 L447.76,346.05 L448.82,346.14 L449.88,346.22 L450.94,346.31 L452.00,346.39 L453.06,346.48 L454.12,346.56 L455.18,346.64 L456.24,346.72 L457.30,346.79 L458.36,346.87 L459.42,346.94 L460.48,347.02 L461.54,347.09 L462.60,347.16 L463.66,347.23 L464.72,347.30 L465.78,347.36 L466.85,347.43 L467.91,347.50 L468.97,347.56 L470.03,347.62 L471.09,347.68 L472.15,347.75 L473.21,347.80 L474.27,347.86 L475.33,347.92 L476.39,347.98 L477.45,348.03 L478.51,348.09 L479.57,348.14 L480.63,348.20 L481.69,348.25 L482.75,348.30 L483.81,348.35 L484.87,348.40 L485.93,348.45 L486.99,348.50 L488.05,348.54 L489.11,348.59 L490.17,348.63 L491.23,348.68 L492.29,348.72 L493.35,348.77 L494.41,348.81 L495.47,348.85 L496.53,348.89 L497.59,348.93 L498.65,348.97 L499.71,349.01 L500.77,349.05 L501.83,349.09 L502.89,349.12 L503.95,349.16 L505.01,349.20 L506.07,349.23 L507.13,349.26 L508.19,349.30 L509.26,349.33 L510.32,349.36 L511.38,349.40 L512.44,349.43 L513.50,349.46 L514.56,349.49 L515.62,349.52 L516.68,349.55 L517.74,349.58 L518.80,349.61 L519.86,349.64 L520.92,349.66 L521.98,349.69 L523.04,349.72 L524.10,349.74 L525.16,349.77 L526.22,349.79 L527.28,349.82 L528.34,349.84 L529.40,349.87" stroke="#0000ff" stroke-width="3.5" stroke-linecap="round" stroke-dasharray="9.5 15.85" stroke-dashoffset="0.42"/>
<path d="M105.30,303.87 L106.36,303.89 L107.42,303.90 L108.48,303.92 L109.54,303.93 L110.60,303.95 L111.66,303.97 L112.72,303.98 L113.78,304.00 L114.84,304.02 L115.90,304.04 L116.96,304.05 L118.02,304.07 L119.08,304.09 L120.14,304.11 L121.20,304.13 L122.26,304.15 L123.32,304.17 L124.38,304.19 L125.44,304.21 L126.50,304.23 L127.57,304.25 L128.63,304.28 L129.69,304.30 L130.75,304.32 L131.81,304.34 L132.87,304.37 L133.93,304.39 L134.99,304.41 L136.05,304.44 L137.11,304.46 L138.17,304.49 L139.23,304.52 L140.29,304.54 L141.35,304.57 L142.41,304.60 L143.47,304.62 L144.53,304.65 L145.59,304.68 L146.65,304.71 L147.71,304.74 L148.77,304.77 L149.83,304.80 L150.89,304.83 L151.95,304.86 L153.01,304.90 L154.07,304.93 L155.13,304.96 L156.19,305.00 L157.25,305.03 L158.31,305.07 L159.37,305.10 L160.43,305.14 L161.49,305.18 L162.55,305.21 L163.61,305.25 L164.67,305.29 L165.73,305.33 L166.79,305.37 L167.85,305.41 L168.91,305.45 L169.98,305.50 L171.04,305.54 L172.10,305.58 L173.16,305.63 L174.22,305.67 L175.28,305.72 L176.34,305.77 L177.40,305.82 L178.46,305.86 L179.52,305.91 L180.58,305.96 L181.64,306.02 L182.70,306.07 L183.76,306.12 L184.82,306.18 L185.88,306.23 L186.94,306.29 L188.00,306.34 L189.06,306.40 L190.12,306.46 L191.18,306.52 L192.24,306.58 L193.30,306.64 L194.36,306.70 L195.42,306.77 L196.48,306.83 L197.54,306.90 L198.60,306.97 L199.66,307.03 L200.72,307.10 L201.78,307.17 L202.84,307.25 L203.90,307.32 L204.96,307.39 L206.02,307.47 L207.08,307.55 L208.14,307.62 L209.20,307.70 L210.26,307.78 L211.32,307.87 L212.39,307.95 L213.45,308.03 L214.51,308.12 L215.57,308.21 L216.63,308.30 L217.69,308.39 L218.75,308.48 L219.81,308.57 L220.87,308.67 L221.93,308.76 L222.99,308.86 L224.05,308.96 L225.11,309.06 L226.17,309.17 L227.23,309.27 L228.29,309.38 L229.35,309.48 L230.41,309.59 L231.47,309.70 L232.53,309.82 L233.59,309.93 L234.65,310.05 L235.71,310.17 L236.77,310.29 L237.83,310.41 L238.89,310.53 L239.95,310.66 L241.01,310.79 L242.07,310.92 L243.13,311.05 L244.19,311.18 L245.25,311.32 L246.31,311.46 L247.37,311.60 L248.43,311.74 L249.49,311.88 L250.55,312.03 L251.61,312.18 L252.67,312.33 L253.73,312.48 L254.80,312.63 L255.86,312.79 L256.92,312.95 L257.98,313.11 L259.04,313.27 L260.10,313.44 L261.16,313.61 L262.22,313.78 L263.28,313.95 L264.34,314.12 L265.40,314.30 L266.46,314.48 L267.52,314.66 L268.58,314.84 L269.64,315.03 L270.70,315.22 L271.76,315.41 L272.82,315.60 L273.88,315.80 L274.94,316.00 L276.00,316.19 L277.06,316.40 L278.12,316.60 L279.18,316.81 L280.24,317.02 L281.30,317.23 L282.36,317.44 L283.42,317.66 L284.48,317.87 L285.54,318.09 L286.60,318.31 L287.66,318.54 L288.72,318.76 L289.78,318.99 L290.84,319.22 L291.90,319.45 L292.96,319.69 L294.02,319.92 L295.08,320.16 L296.14,320.40 L297.21,320.64 L298.27,320.88 L299.33,321.13 L300.39,321.37 L301.45,321.62 L302.51,321.87 L303.57,322.12 L304.63,322.37 L305.69,322.63 L306.75,322.88 L307.81,323.14 L308.87,323.39 L309.93,323.65 L310.99,323.91 L312.05,324.17 L313.11,324.43 L314.17,324.69 L315.23,324.96 L316.29,325.22 L317.35,325.48 L318.41,325.75 L319.47,326.01 L320.53,326.28 L321.59,326.54 L322.65,326.81 L323.71,327.07 L324.77,327.34 L325.83,327.60 L326.89,327.87 L327.95,328.13 L329.01,328.40 L330.07,328.66 L331.13,328.92 L332.19,329.19 L333.25,329.45 L334.31,329.71 L335.37,329.97 L336.43,330.23 L337.49,330.49 L338.55,330.75 L339.62,331.01 L340.68,331.26 L341.74,331.52 L342.80,331.77 L343.86,332.02 L344.92,332.28 L345.98,332.53 L347.04,332.77 L348.10,333.02 L349.16,333.27 L350.22,333.51 L351.28,333.75 L352.34,333.99 L353.40,334.23 L354.46,334.47 L355.52,334.70 L356.58,334.93 L357.64,335.16 L358.70,335.39 L359.76,335.62 L360.82,335.84 L361.88,336.07 L362.94,336.29 L364.00,336.51 L365.06,336.72 L366.12,336.94 L367.18,337.15 L368.24,337.36 L369.30,337.56 L370.36,337.77 L371.42,337.97 L372.48,338.17 L373.54,338.37 L374.60,338.57 L375.66,338.76 L376.72,338.95 L377.78,339.14 L378.84,339.33 L379.90,339.51 L380.97,339.70 L382.03,339.88 L383.09,340.05 L384.15,340.23 L385.21,340.40 L386.27,340.57 L387.33,340.74 L388.39,340.91 L389.45,341.07 L390.51,341.24 L391.57,341.40 L392.63,341.55 L393.69,341.71 L394.75,341.86 L395.81,342.01 L396.87,342.16 L397.93,342.31 L398.99,342.45 L400.05,342.60 L401.11,342.74 L402.17,342.88 L403.23,343.01 L404.29,343.15 L405.35,343.28 L406.41,343.41 L407.47,343.54 L408.53,343.66 L409.59,343.79 L410.65,343.91 L411.71,344.03 L412.77,344.15 L413.83,344.27 L414.89,344.39 L415.95,344.50 L417.01,344.61 L418.07,344.72 L419.13,344.83 L420.19,344.94 L421.25,345.04 L422.31,345.15 L423.38,345.25 L424.44,345.35 L425.50,345.45 L426.56,345.54 L427.62,345.64 L428.68,345.73 L429.74,345.83 L430.80,345.92 L431.86,346.01 L432.92,346.09 L433.98,346.18 L435.04,346.27 L436.10,346.35 L437.16,346.43 L438.22,346.51 L439.28,346.59 L440.34,346.67 L441.40,346.75 L442.46,346.83 L443.52,346.90 L444.58,346.97 L445.64,347.05 L446.70,347.12 L447.76,347.19 L448.82,347.26 L449.88,347.32 L450.94,347.39 L452.00,347.46 L453.06,347.52 L454.12,347.58 L455.18,347.64 L456.24,347.71 L457.30,347.77 L458.36,347.83 L459.42,347.88 L460.48,347.94 L461.54,348.00 L462.60,348.05 L463.66,348.11 L464.72,348.16 L465.78,348.21 L466.85,348.26 L467.91,348.32 L468.97,348.37 L470.03,348.41 L471.09,348.46 L472.15,348.51 L473.21,348.56 L474.27,348.60 L475.33,348.65 L476.39,348.69 L477.45,348.74 L478.51,348.78 L479.57,348.82 L480.63,348.86 L481.69,348.90 L482.75,348.94 L483.81,348.98 L484.87,349.02 L485.93,349.06 L486.99,349.10 L488.05,349.13 L489.11,349.17 L490.17,349.20 L491.23,349.24 L492.29,349.27 L493.35,349.31 L494.41,349.34 L495.47,349.37 L496.53,349.41 L497.59,349.44 L498.65,349.47 L499.71,349.50 L500.77,349.53 L501.83,349.56 L502.89,349.59 L503.95,349.62 L505.01,349.64 L506.07,349.67 L507.13,349.70 L508.19,349.72 L509.26,349.75 L510.32,349.78 L511.38,349.80 L512.44,349.83 L513.50,349.85 L514.56,349.87 L515.62,349.90 L516.68,349.92 L517.74,349.94 L518.80,349.97 L519.86,349.99 L520.92,350.01 L521.98,350.03 L523.04,350.05 L524.10,350.07 L525.16,350.09 L526.22,350.11 L527.28,350.13 L528.34,350.15 L529.40,350.17" stroke="#000" stroke-width="3.3" stroke-linecap="round" stroke-dasharray="2.5 8.7" stroke-dashoffset="0.55"/>
<path d="M105.30,230.33 L106.36,230.71 L107.42,231.09 L108.48,231.48 L109.54,231.87 L110.60,232.27 L111.66,232.67 L112.72,233.08 L113.78,233.49 L114.84,233.91 L115.90,234.33 L116.96,234.76 L118.02,235.19 L119.08,235.62 L120.14,236.07 L121.20,236.51 L122.26,236.96 L123.32,237.42 L124.38,237.88 L125.44,238.34 L126.50,238.81 L127.57,239.28 L128.63,239.76 L129.69,240.24 L130.75,240.73 L131.81,241.22 L132.87,241.71 L133.93,242.21 L134.99,242.71 L136.05,243.22 L137.11,243.73 L138.17,244.25 L139.23,244.76 L140.29,245.29 L141.35,245.81 L142.41,246.34 L143.47,246.87 L144.53,247.41 L145.59,247.94 L146.65,248.48 L147.71,249.03 L148.77,249.57 L149.83,250.12 L150.89,250.67 L151.95,251.23 L153.01,251.78 L154.07,252.34 L155.13,252.90 L156.19,253.46 L157.25,254.02 L158.31,254.59 L159.37,255.15 L160.43,255.72 L161.49,256.29 L162.55,256.85 L163.61,257.42 L164.67,257.99 L165.73,258.56 L166.79,259.13 L167.85,259.70 L168.91,260.27 L169.98,260.84 L171.04,261.41 L172.10,261.98 L173.16,262.55 L174.22,263.12 L175.28,263.68 L176.34,264.25 L177.40,264.82 L178.46,265.38 L179.52,265.94 L180.58,266.50 L181.64,267.06 L182.70,267.62 L183.76,268.17 L184.82,268.73 L185.88,269.28 L186.94,269.83 L188.00,270.37 L189.06,270.92 L190.12,271.46 L191.18,272.00 L192.24,272.54 L193.30,273.07 L194.36,273.60 L195.42,274.13 L196.48,274.66 L197.54,275.18 L198.60,275.70 L199.66,276.22 L200.72,276.74 L201.78,277.25 L202.84,277.76 L203.90,278.26 L204.96,278.76 L206.02,279.26 L207.08,279.76 L208.14,280.25 L209.20,280.74 L210.26,281.23 L211.32,281.71 L212.39,282.19 L213.45,282.67 L214.51,283.14 L215.57,283.61 L216.63,284.08 L217.69,284.54 L218.75,285.01 L219.81,285.46 L220.87,285.92 L221.93,286.37 L222.99,286.82 L224.05,287.27 L225.11,287.71 L226.17,288.15 L227.23,288.59 L228.29,289.02 L229.35,289.45 L230.41,289.88 L231.47,290.31 L232.53,290.73 L233.59,291.16 L234.65,291.57 L235.71,291.99 L236.77,292.40 L237.83,292.82 L238.89,293.23 L239.95,293.63 L241.01,294.04 L242.07,294.44 L243.13,294.84 L244.19,295.24 L245.25,295.64 L246.31,296.03 L247.37,296.43 L248.43,296.82 L249.49,297.21 L250.55,297.59 L251.61,297.98 L252.67,298.37 L253.73,298.75 L254.80,299.13 L255.86,299.51 L256.92,299.89 L257.98,300.27 L259.04,300.65 L260.10,301.02 L261.16,301.40 L262.22,301.77 L263.28,302.14 L264.34,302.52 L265.40,302.89 L266.46,303.26 L267.52,303.63 L268.58,304.00 L269.64,304.36 L270.70,304.73 L271.76,305.10 L272.82,305.46 L273.88,305.83 L274.94,306.19 L276.00,306.56 L277.06,306.92 L278.12,307.29 L279.18,307.65 L280.24,308.01 L281.30,308.38 L282.36,308.74 L283.42,309.10 L284.48,309.46 L285.54,309.83 L286.60,310.19 L287.66,310.55 L288.72,310.91 L289.78,311.27 L290.84,311.63 L291.90,311.99 L292.96,312.35 L294.02,312.71 L295.08,313.07 L296.14,313.43 L297.21,313.79 L298.27,314.15 L299.33,314.51 L300.39,314.87 L301.45,315.23 L302.51,315.58 L303.57,315.94 L304.63,316.30 L305.69,316.66 L306.75,317.01 L307.81,317.37 L308.87,317.72 L309.93,318.08 L310.99,318.43 L312.05,318.78 L313.11,319.14 L314.17,319.49 L315.23,319.84 L316.29,320.19 L317.35,320.54 L318.41,320.89 L319.47,321.23 L320.53,321.58 L321.59,321.93 L322.65,322.27 L323.71,322.61 L324.77,322.95 L325.83,323.29 L326.89,323.63 L327.95,323.97 L329.01,324.30 L330.07,324.64 L331.13,324.97 L332.19,325.30 L333.25,325.63 L334.31,325.96 L335.37,326.28 L336.43,326.61 L337.49,326.93 L338.55,327.25 L339.62,327.56 L340.68,327.88 L341.74,328.19 L342.80,328.50 L343.86,328.81 L344.92,329.12 L345.98,329.42 L347.04,329.72 L348.10,330.02 L349.16,330.32 L350.22,330.61 L351.28,330.90 L352.34,331.19 L353.40,331.48 L354.46,331.76 L355.52,332.04 L356.58,332.32 L357.64,332.59 L358.70,332.87 L359.76,333.14 L360.82,333.40 L361.88,333.67 L362.94,333.93 L364.00,334.19 L365.06,334.44 L366.12,334.70 L367.18,334.95 L368.24,335.20 L369.30,335.44 L370.36,335.68 L371.42,335.92 L372.48,336.16 L373.54,336.39 L374.60,336.62 L375.66,336.85 L376.72,337.07 L377.78,337.29 L378.84,337.51 L379.90,337.73 L380.97,337.94 L382.03,338.15 L383.09,338.36 L384.15,338.56 L385.21,338.76 L386.27,338.96 L387.33,339.16 L388.39,339.35 L389.45,339.54 L390.51,339.73 L391.57,339.92 L392.63,340.10 L393.69,340.28 L394.75,340.46 L395.81,340.63 L396.87,340.81 L397.93,340.98 L398.99,341.14 L400.05,341.31 L401.11,341.47 L402.17,341.63 L403.23,341.79 L404.29,341.94 L405.35,342.10 L406.41,342.25 L407.47,342.40 L408.53,342.54 L409.59,342.69 L410.65,342.83 L411.71,342.97 L412.77,343.11 L413.83,343.24 L414.89,343.37 L415.95,343.51 L417.01,343.63 L418.07,343.76 L419.13,343.89 L420.19,344.01 L421.25,344.13 L422.31,344.25 L423.38,344.37 L424.44,344.48 L425.50,344.60 L426.56,344.71 L427.62,344.82 L428.68,344.92 L429.74,345.03 L430.80,345.14 L431.86,345.24 L432.92,345.34 L433.98,345.44 L435.04,345.54 L436.10,345.63 L437.16,345.73 L438.22,345.82 L439.28,345.91 L440.34,346.00 L441.40,346.09 L442.46,346.18 L443.52,346.27 L444.58,346.35 L445.64,346.43 L446.70,346.51 L447.76,346.59 L448.82,346.67 L449.88,346.75 L450.94,346.83 L452.00,346.90 L453.06,346.98 L454.12,347.05 L455.18,347.12 L456.24,347.19 L457.30,347.26 L458.36,347.33 L459.42,347.39 L460.48,347.46 L461.54,347.52 L462.60,347.59 L463.66,347.65 L464.72,347.71 L465.78,347.77 L466.85,347.83 L467.91,347.89 L468.97,347.95 L470.03,348.00 L471.09,348.06 L472.15,348.11 L473.21,348.17 L474.27,348.22 L475.33,348.27 L476.39,348.32 L477.45,348.37 L478.51,348.42 L479.57,348.47 L480.63,348.52 L481.69,348.56 L482.75,348.61 L483.81,348.65 L484.87,348.70 L485.93,348.74 L486.99,348.78 L488.05,348.83 L489.11,348.87 L490.17,348.91 L491.23,348.95 L492.29,348.99 L493.35,349.03 L494.41,349.06 L495.47,349.10 L496.53,349.14 L497.59,349.17 L498.65,349.21 L499.71,349.24 L500.77,349.28 L501.83,349.31 L502.89,349.35 L503.95,349.38 L505.01,349.41 L506.07,349.44 L507.13,349.47 L508.19,349.50 L509.26,349.53 L510.32,349.56 L511.38,349.59 L512.44,349.62 L513.50,349.65 L514.56,349.67 L515.62,349.70 L516.68,349.73 L517.74,349.75 L518.80,349.78 L519.86,349.80 L520.92,349.83 L521.98,349.85 L523.04,349.88 L524.10,349.90 L525.16,349.92 L526.22,349.95 L527.28,349.97 L528.34,349.99 L529.40,350.01" stroke="#ff0000" stroke-width="3.3" stroke-linecap="round" stroke-dasharray="6.1 9.65 0.01 9.7 0.01 10.73" stroke-dashoffset="36.14"/>
</g>
<rect x="106.1" y="17.6" width="424.25" height="144.50" fill="none" stroke="#000" stroke-width="2"/>
<line x1="94.1" y1="17.60" x2="106.1" y2="17.60" stroke="#000" stroke-width="2"/>
<line x1="94.1" y1="46.50" x2="106.1" y2="46.50" stroke="#000" stroke-width="2"/>
<line x1="94.1" y1="75.40" x2="106.1" y2="75.40" stroke="#000" stroke-width="2"/>
<line x1="94.1" y1="104.30" x2="106.1" y2="104.30" stroke="#000" stroke-width="2"/>
<line x1="94.1" y1="133.20" x2="106.1" y2="133.20" stroke="#000" stroke-width="2"/>
<line x1="94.1" y1="162.10" x2="106.1" y2="162.10" stroke="#000" stroke-width="2"/>
<line x1="100.1" y1="32.05" x2="106.1" y2="32.05" stroke="#000" stroke-width="2"/>
<line x1="100.1" y1="60.95" x2="106.1" y2="60.95" stroke="#000" stroke-width="2"/>
<line x1="100.1" y1="89.85" x2="106.1" y2="89.85" stroke="#000" stroke-width="2"/>
<line x1="100.1" y1="118.75" x2="106.1" y2="118.75" stroke="#000" stroke-width="2"/>
<line x1="100.1" y1="147.65" x2="106.1" y2="147.65" stroke="#000" stroke-width="2"/>
<line x1="106.10" y1="162.1" x2="106.10" y2="174.40" stroke="#000" stroke-width="2"/>
<line x1="148.67" y1="162.1" x2="148.67" y2="168.40" stroke="#000" stroke-width="2"/>
<line x1="173.57" y1="162.1" x2="173.57" y2="168.40" stroke="#000" stroke-width="2"/>
<line x1="191.24" y1="162.1" x2="191.24" y2="168.40" stroke="#000" stroke-width="2"/>
<line x1="204.95" y1="162.1" x2="204.95" y2="168.40" stroke="#000" stroke-width="2"/>
<line x1="216.14" y1="162.1" x2="216.14" y2="168.40" stroke="#000" stroke-width="2"/>
<line x1="225.61" y1="162.1" x2="225.61" y2="168.40" stroke="#000" stroke-width="2"/>
<line x1="233.81" y1="162.1" x2="233.81" y2="168.40" stroke="#000" stroke-width="2"/>
<line x1="241.05" y1="162.1" x2="241.05" y2="168.40" stroke="#000" stroke-width="2"/>
<line x1="247.52" y1="162.1" x2="247.52" y2="174.40" stroke="#000" stroke-width="2"/>
<line x1="290.09" y1="162.1" x2="290.09" y2="168.40" stroke="#000" stroke-width="2"/>
<line x1="314.99" y1="162.1" x2="314.99" y2="168.40" stroke="#000" stroke-width="2"/>
<line x1="332.66" y1="162.1" x2="332.66" y2="168.40" stroke="#000" stroke-width="2"/>
<line x1="346.36" y1="162.1" x2="346.36" y2="168.40" stroke="#000" stroke-width="2"/>
<line x1="357.56" y1="162.1" x2="357.56" y2="168.40" stroke="#000" stroke-width="2"/>
<line x1="367.03" y1="162.1" x2="367.03" y2="168.40" stroke="#000" stroke-width="2"/>
<line x1="375.23" y1="162.1" x2="375.23" y2="168.40" stroke="#000" stroke-width="2"/>
<line x1="382.46" y1="162.1" x2="382.46" y2="168.40" stroke="#000" stroke-width="2"/>
<line x1="388.93" y1="162.1" x2="388.93" y2="174.40" stroke="#000" stroke-width="2"/>
<line x1="431.50" y1="162.1" x2="431.50" y2="168.40" stroke="#000" stroke-width="2"/>
<line x1="456.41" y1="162.1" x2="456.41" y2="168.40" stroke="#000" stroke-width="2"/>
<line x1="474.07" y1="162.1" x2="474.07" y2="168.40" stroke="#000" stroke-width="2"/>
<line x1="487.78" y1="162.1" x2="487.78" y2="168.40" stroke="#000" stroke-width="2"/>
<line x1="498.98" y1="162.1" x2="498.98" y2="168.40" stroke="#000" stroke-width="2"/>
<line x1="508.44" y1="162.1" x2="508.44" y2="168.40" stroke="#000" stroke-width="2"/>
<line x1="516.65" y1="162.1" x2="516.65" y2="168.40" stroke="#000" stroke-width="2"/>
<line x1="523.88" y1="162.1" x2="523.88" y2="168.40" stroke="#000" stroke-width="2"/>
<line x1="530.35" y1="162.1" x2="530.35" y2="174.40" stroke="#000" stroke-width="2"/>
<rect x="105.3" y="206.5" width="424.10" height="144.75" fill="none" stroke="#000" stroke-width="2"/>
<line x1="93.3" y1="206.50" x2="105.3" y2="206.50" stroke="#000" stroke-width="2"/>
<line x1="93.3" y1="230.62" x2="105.3" y2="230.62" stroke="#000" stroke-width="2"/>
<line x1="93.3" y1="254.75" x2="105.3" y2="254.75" stroke="#000" stroke-width="2"/>
<line x1="93.3" y1="278.88" x2="105.3" y2="278.88" stroke="#000" stroke-width="2"/>
<line x1="93.3" y1="303.00" x2="105.3" y2="303.00" stroke="#000" stroke-width="2"/>
<line x1="93.3" y1="327.12" x2="105.3" y2="327.12" stroke="#000" stroke-width="2"/>
<line x1="93.3" y1="351.25" x2="105.3" y2="351.25" stroke="#000" stroke-width="2"/>
<line x1="99.3" y1="218.56" x2="105.3" y2="218.56" stroke="#000" stroke-width="2"/>
<line x1="99.3" y1="242.69" x2="105.3" y2="242.69" stroke="#000" stroke-width="2"/>
<line x1="99.3" y1="266.81" x2="105.3" y2="266.81" stroke="#000" stroke-width="2"/>
<line x1="99.3" y1="290.94" x2="105.3" y2="290.94" stroke="#000" stroke-width="2"/>
<line x1="99.3" y1="315.06" x2="105.3" y2="315.06" stroke="#000" stroke-width="2"/>
<line x1="99.3" y1="339.19" x2="105.3" y2="339.19" stroke="#000" stroke-width="2"/>
<line x1="105.30" y1="351.25" x2="105.30" y2="363.55" stroke="#000" stroke-width="2"/>
<line x1="147.86" y1="351.25" x2="147.86" y2="357.55" stroke="#000" stroke-width="2"/>
<line x1="172.75" y1="351.25" x2="172.75" y2="357.55" stroke="#000" stroke-width="2"/>
<line x1="190.41" y1="351.25" x2="190.41" y2="357.55" stroke="#000" stroke-width="2"/>
<line x1="204.11" y1="351.25" x2="204.11" y2="357.55" stroke="#000" stroke-width="2"/>
<line x1="215.30" y1="351.25" x2="215.30" y2="357.55" stroke="#000" stroke-width="2"/>
<line x1="224.77" y1="351.25" x2="224.77" y2="357.55" stroke="#000" stroke-width="2"/>
<line x1="232.97" y1="351.25" x2="232.97" y2="357.55" stroke="#000" stroke-width="2"/>
<line x1="240.20" y1="351.25" x2="240.20" y2="357.55" stroke="#000" stroke-width="2"/>
<line x1="246.67" y1="351.25" x2="246.67" y2="363.55" stroke="#000" stroke-width="2"/>
<line x1="289.22" y1="351.25" x2="289.22" y2="357.55" stroke="#000" stroke-width="2"/>
<line x1="314.12" y1="351.25" x2="314.12" y2="357.55" stroke="#000" stroke-width="2"/>
<line x1="331.78" y1="351.25" x2="331.78" y2="357.55" stroke="#000" stroke-width="2"/>
<line x1="345.48" y1="351.25" x2="345.48" y2="357.55" stroke="#000" stroke-width="2"/>
<line x1="356.67" y1="351.25" x2="356.67" y2="357.55" stroke="#000" stroke-width="2"/>
<line x1="366.14" y1="351.25" x2="366.14" y2="357.55" stroke="#000" stroke-width="2"/>
<line x1="374.33" y1="351.25" x2="374.33" y2="357.55" stroke="#000" stroke-width="2"/>
<line x1="381.56" y1="351.25" x2="381.56" y2="357.55" stroke="#000" stroke-width="2"/>
<line x1="388.03" y1="351.25" x2="388.03" y2="363.55" stroke="#000" stroke-width="2"/>
<line x1="430.59" y1="351.25" x2="430.59" y2="357.55" stroke="#000" stroke-width="2"/>
<line x1="455.48" y1="351.25" x2="455.48" y2="357.55" stroke="#000" stroke-width="2"/>
<line x1="473.14" y1="351.25" x2="473.14" y2="357.55" stroke="#000" stroke-width="2"/>
<line x1="486.84" y1="351.25" x2="486.84" y2="357.55" stroke="#000" stroke-width="2"/>
<line x1="498.04" y1="351.25" x2="498.04" y2="357.55" stroke="#000" stroke-width="2"/>
<line x1="507.50" y1="351.25" x2="507.50" y2="357.55" stroke="#000" stroke-width="2"/>
<line x1="515.70" y1="351.25" x2="515.70" y2="357.55" stroke="#000" stroke-width="2"/>
<line x1="522.93" y1="351.25" x2="522.93" y2="357.55" stroke="#000" stroke-width="2"/>
<line x1="529.40" y1="351.25" x2="529.40" y2="363.55" stroke="#000" stroke-width="2"/>
<text x="87.6" y="24.10" font-size="22.5" text-anchor="end">20</text>
<text x="87.6" y="53.00" font-size="22.5" text-anchor="end">10</text>
<text x="87.6" y="81.90" font-size="22.5" text-anchor="end">0</text>
<text x="87.6" y="110.80" font-size="22.5" text-anchor="end">-<tspan dx="-1.0">10</tspan></text>
<text x="87.6" y="139.70" font-size="22.5" text-anchor="end">-<tspan dx="-1.0">20</tspan></text>
<text x="87.6" y="168.60" font-size="22.5" text-anchor="end">-<tspan dx="-1.0">30</tspan></text>
<text x="86" y="213.20" font-size="22.5" text-anchor="end">180</text>
<text x="86" y="237.32" font-size="22.5" text-anchor="end">135</text>
<text x="86" y="261.45" font-size="22.5" text-anchor="end">90</text>
<text x="86" y="285.57" font-size="22.5" text-anchor="end">45</text>
<text x="86" y="309.70" font-size="22.5" text-anchor="end">0</text>
<text x="86" y="333.82" font-size="22.5" text-anchor="end">-<tspan dx="-1.4">45</tspan></text>
<text x="86" y="357.95" font-size="22.5" text-anchor="end">-<tspan dx="-1.4">90</tspan></text>
<text x="92.34" y="391" font-size="22.5" textLength="21" lengthAdjust="spacingAndGlyphs">10</text>
<text x="113.30" y="380.2" font-size="12.5">1</text>
<text x="233.71" y="391" font-size="22.5" textLength="21" lengthAdjust="spacingAndGlyphs">10</text>
<text x="254.67" y="380.2" font-size="12.5">2</text>
<text x="375.07" y="391" font-size="22.5" textLength="21" lengthAdjust="spacingAndGlyphs">10</text>
<text x="396.03" y="380.2" font-size="12.5">3</text>
<text x="516.44" y="391" font-size="22.5" textLength="21" lengthAdjust="spacingAndGlyphs">10</text>
<text x="537.40" y="380.2" font-size="12.5">4</text>
<text transform="translate(30.4,166.9) rotate(-90)" font-size="22.5" textLength="139.4" lengthAdjust="spacingAndGlyphs">Amplitude (dB)</text>
<text transform="translate(27.3,329.7) rotate(-90)" font-size="22.5" textLength="103.6" lengthAdjust="spacingAndGlyphs">Phase (deg)</text>
<text x="240.8" y="409.2" font-size="22.5" textLength="152.5" lengthAdjust="spacingAndGlyphs">Frequency (rad/s)</text>
<g fill="none">
<line x1="281.9" y1="220" x2="333.3" y2="220" stroke="#00ffff" stroke-width="3.3"/>
<path d="M283.7,248 H293.2 M308.9,248 H318.4" stroke="#0000ff" stroke-width="3.6" stroke-linecap="round"/>
<path d="M283.6,275.8 H286.1 M294.9,275.8 H297.4 M305.9,275.8 H308.4 M316.8,275.8 H319.3 M328.4,275.8 H330.9" stroke="#000" stroke-width="3.4" stroke-linecap="round"/>
<path d="M283.5,303.4 H291.3 M300.6,303.4 H300.61 M310,303.4 H310.01 M319.6,303.4 H327.3" stroke="#ff0000" stroke-width="3.3" stroke-linecap="round"/>
</g>
<text x="338.6" y="228.6" font-size="22.5" textLength="99.9" lengthAdjust="spacingAndGlyphs">True model</text>
<text x="337.8" y="255.6" font-size="22.5" textLength="190.9" lengthAdjust="spacingAndGlyphs">Sampling rate 300 Hz</text>
<text x="337.8" y="283.1" font-size="22.5" textLength="190.9" lengthAdjust="spacingAndGlyphs">Sampling rate 800 Hz</text>
<text x="337.8" y="310.6" font-size="22.5" textLength="190.2" lengthAdjust="spacingAndGlyphs">Sampling rate 10 kHz</text>
</g></svg></body></html>
